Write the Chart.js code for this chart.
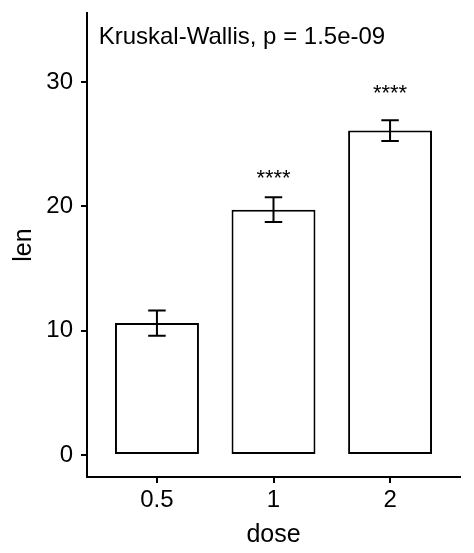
<!DOCTYPE html>
<html>
<head>
<meta charset="utf-8">
<script src="https://cdn.jsdelivr.net/npm/chart.js@4/dist/chart.umd.min.js"></script>
<style>
  html, body { margin: 0; padding: 0; background: #fff; }
  #wrap { width: 474px; height: 553px; position: relative; }
</style>
</head>
<body>
<div id="wrap"><canvas id="c" width="474" height="553"></canvas></div>
<script>
// ---- data ----
const doses = ['0.5', '1', '2'];
const meanLen = [10.61, 19.74, 26.10];
const seLen = [1.01, 0.99, 0.84];
const signifLabels = ['', '****', '****'];
const signifY = [null, 21.7, 28.6];
const yTicks = [0, 10, 20, 30];
const testLabel = 'Kruskal-Wallis, p = 1.5e-09';
const testLabelPos = { x: -0.5, y: 33.1 };

const FONT = "'Liberation Sans', Arial, Helvetica, sans-serif";

const overlay = {
  id: 'overlay',
  afterDatasetsDraw(chart) {
    const ctx = chart.ctx;
    const xs = chart.scales.x, ys = chart.scales.y;
    ctx.save();
    ctx.strokeStyle = '#000';
    ctx.lineWidth = 2;
    ctx.lineCap = 'butt';
    for (let i = 0; i < doses.length; i++) {
      const x = xs.getPixelForValue(i);
      const half = xs.getPixelForValue(i + 0.075) - x;
      const yt = ys.getPixelForValue(meanLen[i] + seLen[i]);
      const yb = ys.getPixelForValue(meanLen[i] - seLen[i]);
      ctx.beginPath();
      ctx.moveTo(x, yt); ctx.lineTo(x, yb);
      ctx.moveTo(x - half, yt); ctx.lineTo(x + half, yt);
      ctx.moveTo(x - half, yb); ctx.lineTo(x + half, yb);
      ctx.stroke();
    }
    ctx.fillStyle = '#000';
    ctx.textBaseline = 'alphabetic';
    ctx.textAlign = 'center';
    ctx.font = '22px ' + FONT;
    for (let i = 0; i < doses.length; i++) {
      if (!signifLabels[i]) continue;
      ctx.fillText(signifLabels[i], xs.getPixelForValue(i), ys.getPixelForValue(signifY[i]));
    }
    ctx.textAlign = 'left';
    ctx.font = '24px ' + FONT;
    ctx.fillText(testLabel, xs.getPixelForValue(testLabelPos.x), ys.getPixelForValue(testLabelPos.y));
    ctx.restore();
  }
};

function zeroPad(s) { s.paddingTop = 0; s.paddingBottom = 0; s.paddingLeft = 0; s.paddingRight = 0; }

new Chart(document.getElementById('c'), {
  type: 'bar',
  data: {
    datasets: [{
      data: doses.map((d, i) => ({ x: i, y: meanLen[i] })),
      backgroundColor: '#ffffff',
      borderColor: '#000000',
      borderWidth: 2,
      borderSkipped: false,
      barPercentage: 0.72,
      categoryPercentage: 1
    }]
  },
  options: {
    responsive: false,
    animation: false,
    events: [],
    layout: { padding: { top: 13, right: 14, left: 0, bottom: 0 } },
    plugins: { legend: { display: false }, tooltip: { enabled: false } },
    scales: {
      x: {
        type: 'linear',
        min: -0.6,
        max: 2.6,
        offset: false,
        afterBuildTicks: s => { s.ticks = doses.map((d, i) => ({ value: i })); },
        afterFit: s => { s.height = 76; zeroPad(s); },
        ticks: {
          callback: v => doses[v],
          color: '#000',
          font: { size: 24, family: FONT },
          padding: 3,
          maxRotation: 0,
          autoSkip: false
        },
        grid: { display: true, drawOnChartArea: false, drawTicks: true, tickLength: 6, color: '#000', lineWidth: 2, offset: false },
        border: { display: true, color: '#000', width: 2 },
        title: { display: true, text: 'dose', color: '#000', font: { size: 25, family: FONT }, padding: { top: 0, bottom: 3 } }
      },
      y: {
        type: 'linear',
        min: -1.77,
        max: 35.56,
        afterBuildTicks: s => { s.ticks = yTicks.map(v => ({ value: v })); },
        afterFit: s => { s.width = 87; zeroPad(s); },
        ticks: {
          color: '#000',
          font: { size: 24, family: FONT },
          padding: 8
        },
        grid: { display: true, drawOnChartArea: false, drawTicks: true, tickLength: 6, color: '#000', lineWidth: 2 },
        border: { display: true, color: '#000', width: 2 },
        title: { display: true, text: 'len', color: '#000', font: { size: 25, family: FONT }, padding: { top: 9, bottom: 0 } }
      }
    }
  },
  plugins: [overlay]
});
</script>
</body>
</html>
